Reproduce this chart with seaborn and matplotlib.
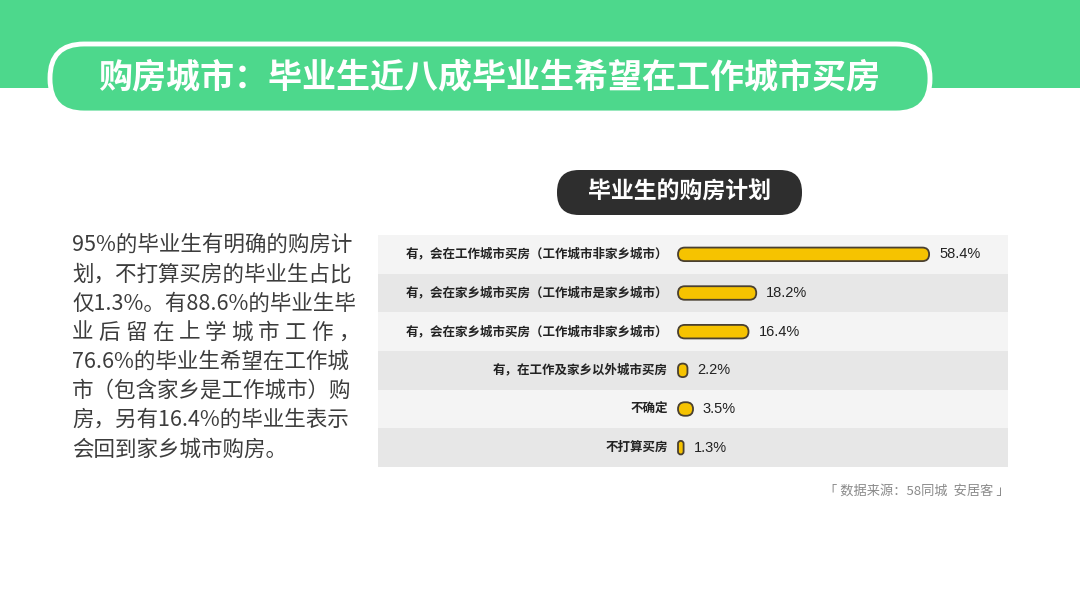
import matplotlib
matplotlib.use('Agg')
import matplotlib.pyplot as plt
from matplotlib.patches import FancyBboxPatch, Rectangle
import seaborn as sns
import pandas as pd

# data
categories = ['有，会在工作城市买房（工作城市非家乡城市）',
              '有，会在家乡城市买房（工作城市是家乡城市）',
              '有，会在家乡城市买房（工作城市非家乡城市）',
              '有，在工作及家乡以外城市买房',
              '不确定',
              '不打算买房']
values = [58.4, 18.2, 16.4, 2.2, 3.5, 1.3]

header = '购房城市：毕业生近八成毕业生希望在工作城市买房'
chart_title = '毕业生的购房计划'
para_lines = ['95%的毕业生有明确的购房计',
              '划，不打算买房的毕业生占比',
              '仅1.3%。有88.6%的毕业生毕',
              '业后留在上学城市工作，',
              '76.6%的毕业生希望在工作城',
              '市（包含家乡是工作城市）购',
              '房，另有16.4%的毕业生表示',
              '会回到家乡城市购房。']
source = '「 数据来源：58同城  安居客 」'

green = '#4dd88c'

sns.set_style('white')
plt.rcParams['font.family'] = ['Noto Sans CJK SC', 'DejaVu Sans']

fig = plt.figure(figsize=(10.8, 6.08), dpi=100)

# background layer in pixel coordinates
bg = fig.add_axes([0, 0, 1, 1])
bg.set_xlim(0, 1080)
bg.set_ylim(608, 0)
bg.axis('off')
bg.add_patch(Rectangle((0, 0), 1080, 88, fc=green, ec='none'))
bg.add_patch(FancyBboxPatch((50, 44), 880, 69, boxstyle='round,pad=0,rounding_size=34',
                            fc=green, ec='white', lw=3.5))
bg.text(490, 78, header, ha='center', va='center', fontsize=24.5, color='white', weight='bold')

bg.add_patch(FancyBboxPatch((557, 170), 245, 45, boxstyle='round,pad=0,rounding_size=22',
                            fc='#2e2e2e', ec='none'))
bg.text(679.5, 192, chart_title, ha='center', va='center', fontsize=16.5, color='white', weight='bold')

# left paragraph
for i, line in enumerate(para_lines):
    y = 245 + i * 29.2
    if i == 3:
        # this line is justified to full width in the reference
        for j, ch in enumerate(line):
            bg.text(72 + j * 26.6, y, ch, ha='left', va='center', fontsize=15.5, color='#3c3c3c')
    else:
        bg.text(72, y, line, ha='left', va='center', fontsize=15.5, color='#3c3c3c')

bg.text(1010, 491, source, ha='right', va='center', fontsize=9.5, color='#8a8a8a')

# chart
px_per_unit = 4.3
zero_px = 678
ax = fig.add_axes([378 / 1080, (608 - 467) / 608, 630 / 1080, 232 / 608])
df = pd.DataFrame({'category': categories, 'value': values})
sns.barplot(data=df, x='value', y='category', orient='h', ax=ax, width=0.35, color='#f6c300')
ax.set_xlim(-(zero_px - 378) / px_per_unit, (1008 - zero_px) / px_per_unit)
ax.set_ylim(5.5, -0.5)
ax.axis('off')

# turn seaborn's bars into pills
asp = px_per_unit / (232 / 6)
bars = [p for p in ax.patches if isinstance(p, Rectangle)]
for p in bars:
    x, y, w, h = p.get_x(), p.get_y(), p.get_width(), p.get_height()
    p.remove()
    r = min(h / asp / 2, w / 2)
    ax.add_patch(FancyBboxPatch((x, y), w, h, boxstyle=f'round,pad=0,rounding_size={r}',
                                mutation_aspect=asp, fc='#f6c300', ec='#4a4030', lw=1.3, zorder=3))

# alternating row bands
for i in range(len(categories)):
    ax.axhspan(i - 0.5, i + 0.5, color='#f4f4f4' if i % 2 == 0 else '#e7e7e7', zorder=0, lw=0)

for i, (cat, v) in enumerate(zip(categories, values)):
    ax.text(-2.4, i, cat, ha='right', va='center', fontsize=9, color='#222222', weight='bold')
    ax.text(v + 2.3, i, f'{v}%', ha='left', va='center', fontsize=10.5,
            family=['Liberation Sans', 'DejaVu Sans'], color='#222222')

fig.savefig('out.png', dpi=100)
